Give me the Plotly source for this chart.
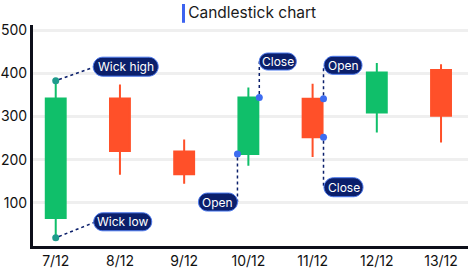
import math
import plotly.graph_objects as go

# ---------------- data ----------------
dates = ["7/12", "8/12", "9/12", "10/12", "11/12", "12/12", "13/12"]
open_ = [65, 342, 219, 213, 341, 309, 408]
high = [383, 374, 247, 367, 376, 424, 421]
low = [19, 165, 144, 186, 206, 263, 240]
close = [342, 220, 166, 344, 252, 402, 302]
y_ticks = [100, 200, 300, 400, 500]

# callouts: (candle index, field, side of body, label)
callout_idx = [0, 0, 3, 3, 4, 4]
callout_field = ["high", "low", "close", "open", "open", "close"]
callout_side = [0, 0, 1, -1, 1, 1]
callout_text = ["Wick high", "Wick low", "Close", "Open", "Open", "Close"]
# box centre offsets (px, up positive) and widths
callout_dx = [70, 67, 18.5, -19.5, 19.5, 20]
callout_dy = [14, 16, 36, -48, 33.5, -50]
callout_w = [65, 58, 37, 39, 38, 39]
callout_h = [19, 18, 17, 18, 18, 19]

GREEN = "#10bf6a"
RED = "#ff5029"
NAVY = "#0b1f6b"
BLUE = "#3d6cf0"
TEAL = "#1e9b8c"
BOXGAP = 0.69
HW = (1 - BOXGAP) / 2 + 0.015

xs = list(range(len(dates)))
fields = {"open": open_, "high": high, "low": low, "close": close}

fig = go.Figure()
fig.add_trace(go.Candlestick(
    x=xs, open=open_, high=high, low=low, close=close,
    increasing=dict(line=dict(color=GREEN, width=2), fillcolor=GREEN),
    decreasing=dict(line=dict(color=RED, width=2), fillcolor=RED),
    whiskerwidth=0, showlegend=False, hoverinfo="skip",
))

mx, my, mc = [], [], []
shapes = []
annotations = []
for k in range(len(callout_text)):
    i = callout_idx[k]
    val = fields[callout_field[k]][i]
    xa = i + callout_side[k] * HW
    mx.append(xa)
    my.append(val)
    mc.append(TEAL if callout_field[k] in ("high", "low") else BLUE)
    dx, dy, w, h = callout_dx[k], callout_dy[k], callout_w[k], callout_h[k]
    # connector end
    if callout_side[k] == 0:
        ex, ey = dx - w / 2 + 2, dy
    else:
        ex, ey = 0, dy
    L = math.hypot(ex, ey)
    sx, sy = ex / L * 3.5, ey / L * 3.5
    shapes.append(dict(type="line", xref="x", yref="y", xsizemode="pixel", ysizemode="pixel",
                       xanchor=xa, yanchor=val, x0=sx, y0=sy, x1=ex, y1=ey,
                       line=dict(color=NAVY, width=1.5, dash="dot"), layer="above"))
    # pill
    r = h / 2
    c = 0.5523 * r
    x0, x1 = dx - w / 2, dx + w / 2
    y0, y1 = dy - h / 2, dy + h / 2
    path = (f"M {x0 + r},{y1} L {x1 - r},{y1} "
            f"C {x1 - r + c},{y1} {x1},{dy + c} {x1},{dy} "
            f"C {x1},{dy - c} {x1 - r + c},{y0} {x1 - r},{y0} "
            f"L {x0 + r},{y0} "
            f"C {x0 + r - c},{y0} {x0},{dy - c} {x0},{dy} "
            f"C {x0},{dy + c} {x0 + r - c},{y1} {x0 + r},{y1} Z")
    shapes.append(dict(type="path", xref="x", yref="y", xsizemode="pixel", ysizemode="pixel",
                       xanchor=xa, yanchor=val, path=path, fillcolor=NAVY,
                       line=dict(color="#4a78ee", width=1), layer="above"))
    annotations.append(dict(x=xa, y=val, xref="x", yref="y", text=callout_text[k],
                            showarrow=False, xshift=dx, yshift=dy,
                            font=dict(family="Inter", size=12, color="white"),
                            xanchor="center", yanchor="middle"))

fig.add_trace(go.Scatter(x=mx, y=my, mode="markers", showlegend=False, hoverinfo="skip",
                         marker=dict(size=7, color=mc)))

# title bar
shapes.append(dict(type="rect", xref="paper", yref="paper", x0=0.3425, x1=0.3494,
                   y0=1.01, y1=1.095, fillcolor="#3d63f0", line=dict(width=0), layer="above"))

fig.update_layout(
    width=474, height=270,
    margin=dict(l=33, r=6, t=25, b=24),
    paper_bgcolor="white", plot_bgcolor="white",
    boxgap=BOXGAP, boxgroupgap=0,
    title=dict(text="Candlestick chart", x=0.532, xanchor="center", y=0.952, yanchor="middle",
               font=dict(family="Inter", size=15.5, color="#1a1a1a")),
    font=dict(family="Inter", size=14, color="#111111"),
    xaxis=dict(range=[-0.354, 6.42], tickvals=xs, ticktext=dates, showgrid=False,
               zeroline=False, showline=True, linecolor="#0d0f1a", linewidth=3,
               rangeslider=dict(visible=False), ticks="", fixedrange=True, automargin=False),
    yaxis=dict(range=[0, 512], tickvals=y_ticks, showgrid=True, gridcolor="#efefef", gridwidth=3,
               zeroline=False, showline=True, linecolor="#0d0f1a", linewidth=3, ticks="",
               automargin=False),
    shapes=shapes, annotations=annotations,
)

fig.write_html("out.html")
